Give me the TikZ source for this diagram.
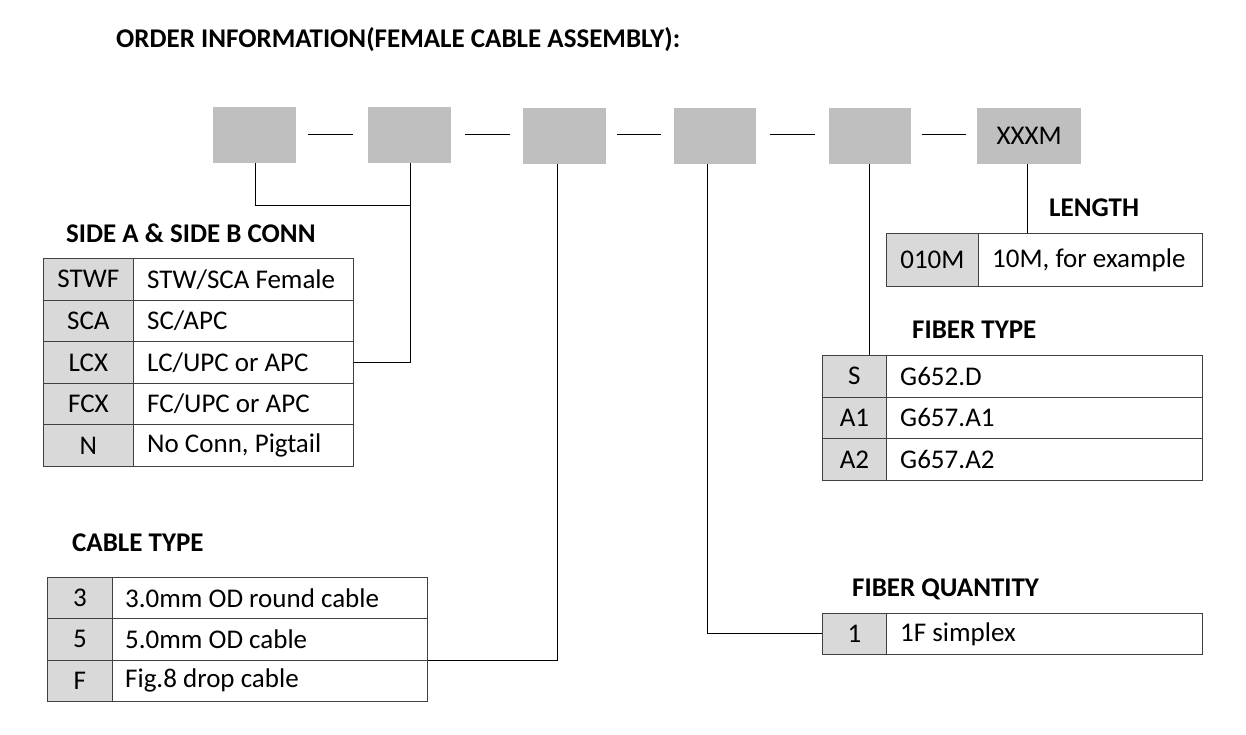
\documentclass[tikz,border=0pt]{standalone}
\usepackage{fontspec}
\setmainfont{Carlito}
\definecolor{bx}{HTML}{BFBFBF}
\definecolor{cl}{HTML}{D9D9D9}
\definecolor{ln}{HTML}{404040}
\begin{document}
\begin{tikzpicture}[x=1pt,y=-1pt,
 top/.style={fill=bx,draw=none,anchor=north west,inner sep=0},
 cell/.style={draw=ln,line width=0.8pt,anchor=north west,inner sep=0,font=\fontsize{27}{27}\selectfont},
 key/.style={cell,fill=cl},
 txt/.style={anchor=west,inner sep=0,font=\fontsize{27}{27}\selectfont},
 ttl/.style={anchor=west,font=\bfseries\fontsize{27}{27}\selectfont,inner sep=0},
 con/.style={line width=1pt,draw=black}]
\useasboundingbox (0,0) rectangle (1246,735);
\node[ttl] (title) at (116,40) {ORDER INFORMATION(FEMALE CABLE ASSEMBLY):};
\node[top,minimum width=83pt,minimum height=56pt] (b1) at (213,107) {};
\node[top,minimum width=83pt,minimum height=56pt] (b2) at (368,107) {};
\node[top,minimum width=83pt,minimum height=56pt] (b3) at (523,108) {};
\node[top,minimum width=82pt,minimum height=56pt] (b4) at (674,108) {};
\node[top,minimum width=82pt,minimum height=56pt] (b5) at (829,108) {};
\node[top,minimum width=104pt,minimum height=56pt,font=\fontsize{27}{27}\selectfont] (b6) at (977,108) {XXXM};
\foreach \a/\b in {308/353,465/510,617/661,770/815,922/966}
  \draw[line width=1pt] (\a,135) -- (\b,135);
% side A
\node[ttl] (tA) at (66,233) {SIDE A \& SIDE B CONN};
\foreach \k/\v [count=\i from 0] in {STWF/{STW/SCA Female},SCA/{SC/APC},LCX/{LC/UPC or APC},FCX/{FC/UPC or APC},N/{No Conn, Pigtail}}{
  \node[key,minimum width=90pt,minimum height=41.6pt] (ak\i) at (43,258+\i*41.6) {\k};
  \node[cell,minimum width=220pt,minimum height=41.6pt] (av\i) at (133,258+\i*41.6) {};
  \node[txt] at ([xshift=14pt]av\i.west) {\v};
}
% cable type
\node[ttl] (tC) at (72,543) {CABLE TYPE};
\foreach \k/\v [count=\i from 0] in {3/3.0mm OD round cable,5/5.0mm OD cable,F/Fig.8 drop cable}{
  \node[key,minimum width=65pt,minimum height=41.3pt] (ck\i) at (47,577+\i*41.3) {\k};
  \node[cell,minimum width=315pt,minimum height=41.3pt] (cv\i) at (112,577+\i*41.3) {};
  \node[txt] at ([xshift=13pt]cv\i.west) {\v};
}
% length
\node[ttl] (tL) at (1049,208) {LENGTH};
\node[key,minimum width=92pt,minimum height=53pt] (lk) at (886,233) {010M};
\node[cell,minimum width=224pt,minimum height=53pt] (lv) at (978,233) {};
\node[txt] at ([xshift=14pt]lv.west) {10M, for example};
% fiber type
\node[ttl] (tF) at (912,330) {FIBER TYPE};
\foreach \k/\v [count=\i from 0] in {S/G652.D,A1/G657.A1,A2/G657.A2}{
  \node[key,minimum width=64pt,minimum height=41.7pt] (fk\i) at (822,355+\i*41.7) {\k};
  \node[cell,minimum width=316pt,minimum height=41.7pt] (fv\i) at (886,355+\i*41.7) {};
  \node[txt] at ([xshift=14pt]fv\i.west) {\v};
}
% fiber quantity
\node[ttl] (tQ) at (852,589) {FIBER QUANTITY};
\node[key,minimum width=64pt,minimum height=41pt] (qk) at (822,613) {1};
\node[cell,minimum width=316pt,minimum height=41pt] (qv) at (886,613) {};
\node[txt] at ([xshift=14pt]qv.west) {1F simplex};
% connectors
\coordinate (j1) at (410,206);
\draw[con] (b1.south west) ++(42,0) |- (j1);
\draw[con] (b2.south west) ++(42,0) |- (av2.east);
\draw[con] (b3.south west) ++(34,0) |- (cv1.south east);
\draw[con] (b4.south west) ++(33,0) |- (qk.west);
\draw[con] (b5.south west) ++(40,0) -- (869,355);
\draw[con] (b6.south west) ++(50,0) -- (lv.north west -| 1027,0);
\end{tikzpicture}
\end{document}
